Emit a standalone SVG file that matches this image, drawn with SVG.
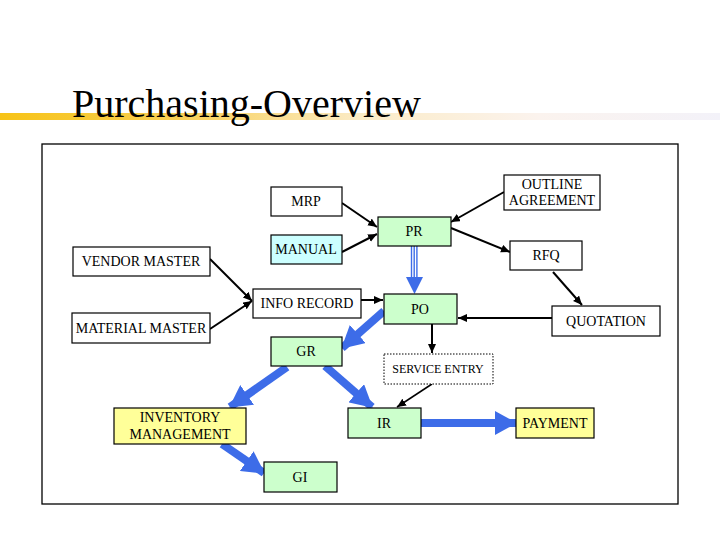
<svg xmlns="http://www.w3.org/2000/svg" width="720" height="540" viewBox="0 0 720 540" font-family="'Liberation Serif', 'Times New Roman', Times, 'DejaVu Serif', serif">
<defs>
<linearGradient id="bar" x1="0" y1="0" x2="1" y2="0">
<stop offset="0" stop-color="#F7C316"/>
<stop offset="0.25" stop-color="#F8CF55"/>
<stop offset="0.5" stop-color="#FBEBC6"/>
<stop offset="0.75" stop-color="#FBF3EE"/>
<stop offset="1" stop-color="#F3F2F9"/>
</linearGradient>
<marker id="ah" markerUnits="userSpaceOnUse" markerWidth="10" markerHeight="9" refX="9" refY="4" orient="auto">
<path d="M0,0 L9,4 L0,8 z" fill="#000"/>
</marker>
<marker id="bh" markerUnits="userSpaceOnUse" markerWidth="22" markerHeight="24" refX="21" refY="12" orient="auto">
<path d="M0,0 L22,12 L0,24 z" fill="#3D6CE8"/>
</marker>
<style>
rect{stroke:#000;stroke-width:1.2}
.w{fill:#fff}.g{fill:#CCFFCC}.c{fill:#CCFFFF}.y{fill:#FFFF99}
.d{fill:#fff;stroke-dasharray:1.5 1.5;stroke-width:1}
text{font-size:14px;fill:#000;text-anchor:middle}
.s{font-size:12px}
.k{stroke:#000;stroke-width:2;fill:none;marker-end:url(#ah)}
.b{stroke:#3D6CE8;stroke-width:8;fill:none;marker-end:url(#bh)}
</style>
</defs>
<rect x="0" y="0" width="720" height="540" fill="#fff" style="stroke:none"/>
<rect x="0" y="113" width="720" height="7" fill="url(#bar)" style="stroke:none"/>
<text x="72" y="117" style="font-size:40px;text-anchor:start">Purchasing-Overview</text>
<rect x="42" y="144" width="636" height="360" fill="none" style="stroke-width:1.3"/>

<g id="connectors">
<line class="k" x1="342" y1="203" x2="377" y2="227"/>
<line class="k" x1="342" y1="252" x2="377" y2="234"/>
<line class="k" x1="504" y1="192" x2="451" y2="222"/>
<line class="k" x1="451" y1="228" x2="510" y2="252"/>
<line class="k" x1="553" y1="272" x2="582" y2="305"/>
<line class="k" x1="210" y1="259" x2="252" y2="301"/>
<line class="k" x1="210" y1="329" x2="252" y2="301"/>
<line class="k" x1="361" y1="300" x2="383" y2="300"/>
<line class="k" x1="552" y1="318" x2="458" y2="318"/>
<line class="k" x1="432" y1="324" x2="432" y2="353"/>
<line class="k" x1="432" y1="384" x2="397" y2="407" style="stroke-width:1.5"/>
<g stroke="#3D6CE8" stroke-width="1.4">
<line x1="411.5" y1="246" x2="411.5" y2="278"/>
<line x1="414.2" y1="246" x2="414.2" y2="278"/>
<line x1="416.9" y1="246" x2="416.9" y2="278"/>
</g>
<polygon points="406,277 423,277 414.5,294" fill="#3D6CE8"/>
<line class="b" x1="384" y1="311" x2="342" y2="348"/>
<line class="b" x1="287" y1="367" x2="230" y2="407"/>
<line class="b" x1="325" y1="366" x2="372" y2="407"/>
<line class="b" x1="222" y1="444" x2="264" y2="473"/>
<line class="b" x1="421" y1="423" x2="516" y2="423"/>
</g>

<g id="mrp"><rect class="w" x="271" y="187" width="71" height="29"/><text x="306" y="206">MRP</text></g>
<g id="outline"><rect class="w" x="504" y="175" width="96" height="35"/><text x="552" y="189">OUTLINE</text><text x="552" y="205">AGREEMENT</text></g>
<g id="pr"><rect class="g" x="378" y="217" width="73" height="29"/><text x="414" y="236">PR</text></g>
<g id="manual"><rect class="c" x="271" y="235" width="71" height="29"/><text x="306" y="254">MANUAL</text></g>
<g id="vendor"><rect class="w" x="73" y="247" width="137" height="29"/><text x="141" y="266">VENDOR MASTER</text></g>
<g id="rfq"><rect class="w" x="510" y="241" width="72" height="29"/><text x="546" y="260">RFQ</text></g>
<g id="info"><rect class="w" x="253" y="289" width="108" height="29"/><text x="307" y="308">INFO RECORD</text></g>
<g id="po"><rect class="g" x="384" y="294" width="73" height="30"/><text x="420" y="314">PO</text></g>
<g id="quotation"><rect class="w" x="552" y="306" width="108" height="30"/><text x="606" y="326">QUOTATION</text></g>
<g id="material"><rect class="w" x="72" y="313" width="138" height="30"/><text x="141" y="333">MATERIAL MASTER</text></g>
<g id="gr"><rect class="g" x="271" y="337" width="71" height="29"/><text x="306" y="356">GR</text></g>
<g id="service"><rect class="d" x="384" y="354" width="109" height="30"/><text class="s" x="438" y="373">SERVICE ENTRY</text></g>
<g id="inventory"><rect class="y" x="114" y="408" width="132" height="36"/><text x="180" y="422">INVENTORY</text><text x="180" y="439">MANAGEMENT</text></g>
<g id="ir"><rect class="g" x="348" y="408" width="73" height="30"/><text x="384" y="428">IR</text></g>
<g id="payment"><rect class="y" x="516" y="408" width="78" height="30"/><text x="555" y="428">PAYMENT</text></g>
<g id="gi"><rect class="g" x="264" y="462" width="73" height="30"/><text x="300" y="482">GI</text></g>
</svg>
